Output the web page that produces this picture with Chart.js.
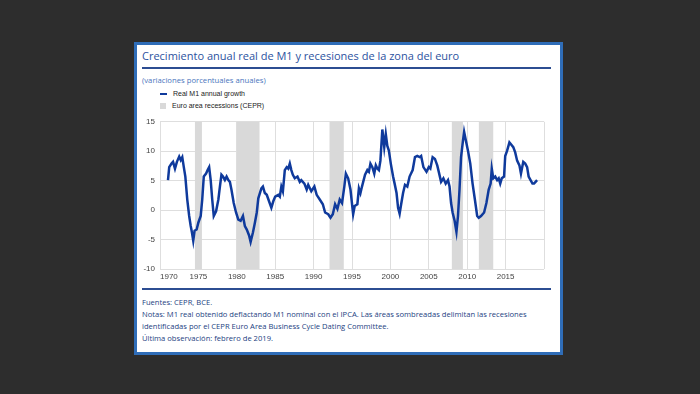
<!DOCTYPE html>
<html>
<head>
<meta charset="utf-8">
<script src="https://cdn.jsdelivr.net/npm/chart.js@4"></script>
<style>
  body { margin: 0; width: 700px; height: 394px; background: #2d2d2d; position: relative; overflow: hidden; font-family: "Open Sans", sans-serif; }
  .card { position: absolute; left: 134px; top: 42px; width: 429px; height: 313px; box-sizing: border-box; border: 3px solid #2f6db8; background: #fff; }
  .abs { position: absolute; white-space: nowrap; }
  #title { left: 142px; top: 48px; font-size: 11px; color: #2c52a0; }
  .rule { position: absolute; left: 142px; width: 409px; height: 2px; background: #2c4d92; }
  #subtitle { left: 142px; top: 75px; font-size: 7.7px; color: #4a75bd; }
  .legend { left: 160px; font-family: "Liberation Sans", Arial, sans-serif; font-size: 7px; color: #222; }
  .legend i { display: inline-block; vertical-align: middle; margin-right: 6px; }
  #chartBox { position: absolute; left: 135px; top: 112px; width: 420px; height: 175px; }
  .notes { left: 142px; font-size: 7.6px; color: #24427f; }
</style>
</head>
<body>
<div class="card"></div>
<div class="abs" id="title">Crecimiento anual real de M1 y recesiones de la zona del euro</div>
<div class="rule" style="top:67px"></div>
<div class="abs" id="subtitle">(variaciones porcentuales anuales)</div>
<div class="abs legend" style="top:90px"><i style="width:7px;height:2px;background:#0f3a9c"></i>Real M1 annual growth</div>
<div class="abs legend" style="top:102px"><i style="width:6px;height:6px;background:#d9d9d9"></i>Euro area recessions (CEPR)</div>
<div id="chartBox"><canvas id="m1Chart"></canvas></div>
<div class="rule" style="top:288px"></div>
<div class="abs notes" style="top:297px">Fuentes: CEPR, BCE.</div>
<div class="abs notes" style="top:309px">Notas: M1 real obtenido deflactando M1 nominal con el IPCA. Las áreas sombreadas delimitan las recesiones</div>
<div class="abs notes" style="top:321px">identificadas por el CEPR Euro Area Business Cycle Dating Committee.</div>
<div class="abs notes" style="top:333px">Última observación: febrero de 2019.</div>

<script>
// ================= DATA =================
const years = [
    1971.04, 1971.2, 1971.5, 1971.7, 1971.95, 1972.2, 1972.5, 1972.7, 1972.9, 1973.1,
    1973.3, 1973.55, 1973.8, 1974.0, 1974.16, 1974.33, 1974.5, 1974.77, 1975.0, 1975.3,
    1975.5, 1975.7, 1976.0, 1976.2, 1976.4, 1976.6, 1976.8, 1977.0, 1977.3, 1977.6,
    1977.8, 1978.0, 1978.2, 1978.45, 1978.67, 1978.9, 1979.1, 1979.3, 1979.6, 1979.9,
    1980.2, 1980.5, 1980.8, 1981.05, 1981.3, 1981.6, 1981.8, 1982.1, 1982.35, 1982.6,
    1982.8, 1983.2, 1983.4, 1983.65, 1983.9, 1984.2, 1984.5, 1984.75, 1985.0, 1985.4,
    1985.6, 1985.8, 1986.0, 1986.25, 1986.5, 1986.7, 1986.9, 1987.1, 1987.3, 1987.55,
    1987.9, 1988.2, 1988.4, 1988.8, 1989.1, 1989.3, 1989.7, 1990.1, 1990.4, 1990.8,
    1991.2, 1991.5, 1991.9, 1992.2, 1992.5, 1992.8, 1993.1, 1993.4, 1993.7, 1994.0,
    1994.2, 1994.5, 1994.8, 1995.15, 1995.35, 1995.7, 1995.9, 1996.1, 1996.3, 1996.7,
    1997.0, 1997.2, 1997.4, 1997.65, 1997.9, 1998.1, 1998.3, 1998.5, 1998.7, 1998.95,
    1999.2, 1999.4, 1999.6, 1999.8, 2000.05, 2000.35, 2000.55, 2000.8, 2001.0, 2001.2,
    2001.4, 2001.65, 2001.9, 2002.2, 2002.5, 2002.9, 2003.2, 2003.5, 2003.8, 2004.0,
    2004.3, 2004.7, 2005.0, 2005.2, 2005.5, 2005.8, 2006.1, 2006.3, 2006.6, 2006.9,
    2007.2, 2007.5, 2007.7, 2007.9, 2008.1, 2008.36, 2008.6, 2008.8, 2009.0, 2009.2,
    2009.45, 2009.6, 2009.8, 2010.1, 2010.4, 2010.7, 2011.0, 2011.3, 2011.5, 2011.8,
    2012.2, 2012.5, 2012.8, 2013.05, 2013.2, 2013.4, 2013.65, 2013.9, 2014.1, 2014.3,
    2014.5, 2014.8, 2014.95, 2015.2, 2015.5, 2015.7, 2016.0, 2016.25, 2016.5, 2016.8,
    2017.0, 2017.3, 2017.55, 2017.8, 2018.0, 2018.25, 2018.5, 2018.7, 2018.9, 2019.1
];

const realM1Growth = [
    5.1, 7.3, 7.9, 8.2, 7.05, 8.2, 9.1, 8.5, 9.0, 7.3,
    5.7, 1.8, -1.0, -2.7, -3.8, -5.2, -3.5, -3.3, -2.1, -1.0,
    1.8, 5.7, 6.2, 6.8, 7.3, 5.1, 1.8, -1.0, -0.2, 1.8,
    4.0, 6.0, 5.7, 5.1, 5.7, 5.1, 4.8, 3.5, 1.2, -0.4,
    -1.6, -1.8, -1.0, -2.7, -3.3, -4.3, -5.4, -3.8, -2.2, -0.4,
    2.0, 3.7, 4.0, 2.9, 2.6, 1.5, 0.4, 1.5, 2.3, 2.6,
    2.3, 4.0, 3.2, 6.8, 7.3, 7.05, 7.9, 6.8, 6.0, 5.4,
    5.7, 4.8, 5.1, 4.5, 3.5, 4.3, 3.2, 4.0, 2.6, 1.8,
    1.0, -0.4, -0.7, -1.3, -0.7, 1.0, 0.2, 1.8, 1.2, 4.0,
    6.2, 5.4, 3.5, -0.7, 0.7, 1.0, 3.7, 2.9, 4.0, 6.0,
    6.8, 6.5, 7.9, 7.3, 6.2, 7.6, 7.05, 6.8, 8.4, 13.7,
    10.7, 12.9, 10.9, 10.1, 7.9, 5.7, 4.5, 2.9, 0.4, -0.6,
    1.0, 2.9, 4.3, 4.0, 5.7, 6.8, 9.0, 9.2, 9.0, 9.2,
    7.3, 6.5, 7.3, 7.05, 9.0, 8.7, 7.6, 6.5, 4.8, 5.4,
    4.5, 5.1, 4.0, 1.2, -0.4, -1.8, -3.7, -1.0, 3.5, 9.0,
    11.8, 13.3, 12.0, 10.1, 7.9, 4.5, 1.8, -1.0, -1.3, -1.0,
    -0.4, 1.2, 3.5, 4.5, 7.05, 5.4, 5.7, 5.1, 5.4, 4.5,
    5.4, 5.7, 9.2, 10.1, 11.5, 11.2, 10.7, 9.8, 8.4, 7.6,
    6.2, 8.2, 7.9, 7.3, 5.7, 5.1, 4.5, 4.5, 4.8, 5.1
];

// CEPR recession periods (start / end, in years)
const recessionStart = [1974.55, 1980.0, 1992.07, 2008.0, 2011.52];
const recessionEnd   = [1975.46, 1982.96, 1993.93, 2009.44, 2013.39];

// ================= RECESSION SHADING =================
const recessionShading = {
    id: "recessionShading",
    beforeDatasetsDraw(chart) {
        const { ctx, chartArea, scales } = chart;
        ctx.save();
        ctx.fillStyle = "#d9d9d9";
        recessionStart.forEach((start, i) => {
            const x0 = scales.x.getPixelForValue(start);
            const x1 = scales.x.getPixelForValue(recessionEnd[i]);
            ctx.fillRect(x0, chartArea.top, x1 - x0, chartArea.bottom - chartArea.top);
        });
        ctx.restore();
    }
};

// ================= CHART =================
const tickFont = { family: "'Liberation Sans', Arial, sans-serif", size: 8 };

new Chart(document.getElementById("m1Chart"), {
    type: "line",
    data: {
        datasets: [{
            label: "Real M1 annual growth",
            data: years.map((y, i) => ({ x: y, y: realM1Growth[i] })),
            borderColor: "#0f3a9c",
            borderWidth: 2.5,
            pointRadius: 0,
            tension: 0
        }]
    },
    options: {
        responsive: true,
        maintainAspectRatio: false,
        animation: false,
        layout: { padding: { left: 0, right: 11, top: 6, bottom: 0 } },
        plugins: { legend: { display: false }, tooltip: { enabled: false } },
        scales: {
            x: {
                type: "linear",
                min: 1970,
                max: 2020,
                border: { display: false },
                grid: { color: "#dedede", drawTicks: false },
                ticks: {
                    stepSize: 5,
                    padding: 3,
                    align: "inner",
                    color: "#444",
                    font: tickFont,
                    callback: v => (v === 2020 ? "" : String(v))
                },
                afterFit(scale) { scale.height = 18; }
            },
            y: {
                min: -10,
                max: 15,
                border: { display: false },
                grid: { color: "#dedede", drawTicks: false },
                ticks: { stepSize: 5, padding: 5, color: "#444", font: tickFont },
                afterFit(scale) { scale.width = 25; }
            }
        }
    },
    plugins: [recessionShading]
});
</script>
</body>
</html>
